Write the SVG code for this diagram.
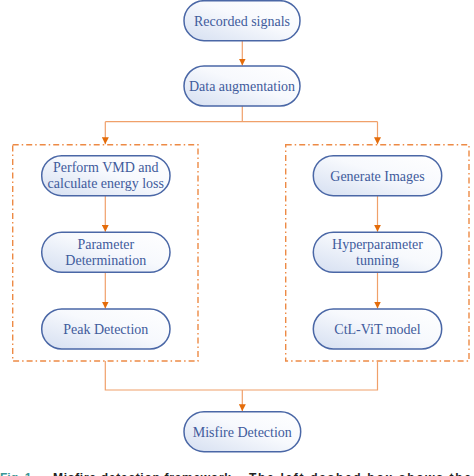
<svg xmlns="http://www.w3.org/2000/svg" width="474" height="476" viewBox="0 0 474 476">
<defs>
<linearGradient id="pillFill" x1="1" y1="0" x2="0" y2="1">
<stop offset="0" stop-color="#ffffff"/>
<stop offset="0.45" stop-color="#f7f9fd"/>
<stop offset="1" stop-color="#d5dff1"/>
</linearGradient>
<marker id="arr" viewBox="0 0 10 10" refX="10" refY="5" markerWidth="7" markerHeight="7" markerUnits="userSpaceOnUse" orient="auto">
<path d="M0,0 L10,5 L0,10 Z" fill="#e46c0a"/>
</marker>
</defs>
<style>
.pill{fill:url(#pillFill);stroke:#4a67a6;stroke-width:1.5}
.lbl{font-family:"Liberation Serif","Times New Roman",serif;font-size:14px;fill:#3f5b9c;text-anchor:middle}
.con{fill:none;stroke:#f0a06a;stroke-width:1.2}
.frame{fill:none;stroke:#ed8a45;stroke-width:1.4;stroke-dasharray:6 3 1.5 3}
.cap{font-family:"Liberation Sans",Arial,sans-serif;font-size:12px;font-weight:bold;fill:#222}
</style>
<rect width="474" height="476" fill="#ffffff"/>

<g id="frames">
<rect class="frame" x="12.7" y="144.7" width="185.3" height="216.3"/>
<rect class="frame" x="285.7" y="144.7" width="183.3" height="216.3"/>
</g>

<g id="connectors">
<path class="con" d="M242.3,40.7 V65.5" marker-end="url(#arr)"/>
<path class="con" d="M242.3,106 V121.7 M105.3,121.7 H377.5"/>
<path class="con" d="M105.3,121.7 V144.2" marker-end="url(#arr)"/>
<path class="con" d="M377.5,121.7 V144.2" marker-end="url(#arr)"/>
<path class="con" d="M105.3,195.7 V231.8" marker-end="url(#arr)"/>
<path class="con" d="M105.3,272.3 V308.5" marker-end="url(#arr)"/>
<path class="con" d="M377.5,195.7 V231.8" marker-end="url(#arr)"/>
<path class="con" d="M377.5,272.3 V308.5" marker-end="url(#arr)"/>
<path class="con" d="M105.3,361 V390 H377.5 V361"/>
<path class="con" d="M242.3,390 V411.2" marker-end="url(#arr)"/>
</g>

<g id="n-recorded">
<rect class="pill" x="184" y="0.7" width="116" height="40" rx="20" ry="20"/>
<text class="lbl" x="242" y="25.5">Recorded signals</text>
</g>
<g id="n-augment">
<rect class="pill" x="184" y="66" width="116" height="40" rx="20" ry="20"/>
<text class="lbl" x="242" y="91">Data augmentation</text>
</g>
<g id="n-vmd">
<rect class="pill" x="41.7" y="155.7" width="128.3" height="40" rx="20" ry="20"/>
<text class="lbl" x="105.8" y="172">Perform VMD and</text>
<text class="lbl" x="105.8" y="188">calculate energy loss</text>
</g>
<g id="n-param">
<rect class="pill" x="41.7" y="232.3" width="128.3" height="40" rx="20" ry="20"/>
<text class="lbl" x="105.8" y="249">Parameter</text>
<text class="lbl" x="105.8" y="265">Determination</text>
</g>
<g id="n-peak">
<rect class="pill" x="41.7" y="309" width="128.3" height="40" rx="20" ry="20"/>
<text class="lbl" x="105.8" y="334">Peak Detection</text>
</g>
<g id="n-images">
<rect class="pill" x="313.3" y="155.7" width="128.4" height="40" rx="20" ry="20"/>
<text class="lbl" x="377.5" y="180.5">Generate Images</text>
</g>
<g id="n-hyper">
<rect class="pill" x="313.3" y="232.3" width="128.4" height="40" rx="20" ry="20"/>
<text class="lbl" x="377.5" y="249">Hyperparameter</text>
<text class="lbl" x="377.5" y="265">tunning</text>
</g>
<g id="n-ctl">
<rect class="pill" x="313.3" y="309" width="128.4" height="40" rx="20" ry="20"/>
<text class="lbl" x="377.5" y="334">CtL-ViT model</text>
</g>
<g id="n-misfire">
<rect class="pill" x="184" y="411.7" width="116.7" height="40" rx="20" ry="20"/>
<text class="lbl" x="242.3" y="437">Misfire Detection</text>
</g>

<g id="caption">
<text class="cap" x="0" y="481.5" style="fill:#3a9696">Fig. 1</text>
<text class="cap" x="53" y="481.5" textLength="182" lengthAdjust="spacing">Misfire detection framework.</text>
<text class="cap" x="249" y="481.5" textLength="222" lengthAdjust="spacing">The left dashed box shows the</text>
</g>
</svg>
